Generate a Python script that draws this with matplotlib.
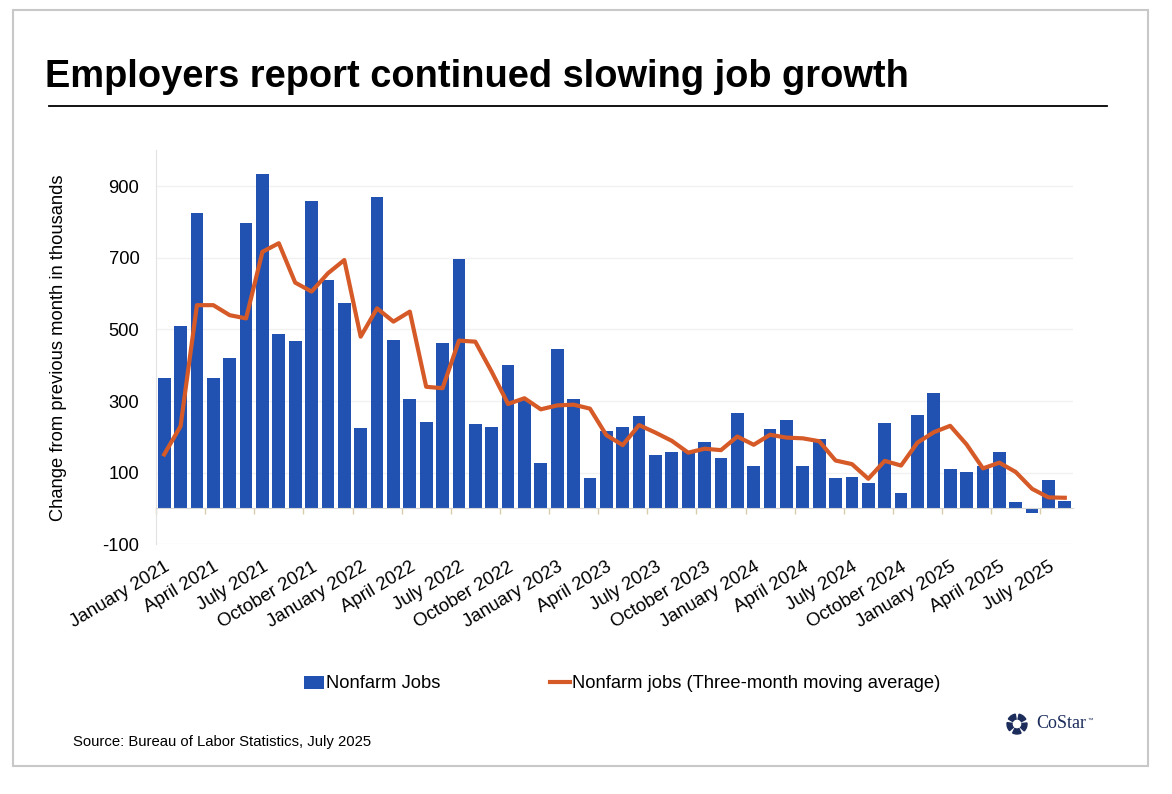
import matplotlib
matplotlib.use("Agg")
import matplotlib.pyplot as plt
import matplotlib.patches as mpatches
from matplotlib.lines import Line2D
import numpy as np

plt.rcParams['font.family'] = ['Liberation Sans', 'DejaVu Sans']
plt.rcParams['axes.unicode_minus'] = False

# monthly change in nonfarm payrolls (thousands), January 2021 .. August 2025
jobs = [365, 511, 826, 365, 421, 797, 933, 488, 467, 859, 638, 575,
        225, 871, 471, 306, 242, 462, 698, 237, 227, 400, 303, 126,
        445, 307, 85, 217, 227, 257, 149, 157, 160, 186, 140, 268,
        120, 222, 246, 118, 193, 86, 88, 71, 240, 44, 261, 323,
        110, 102, 120, 157, 18, -12, 79, 22]

# three-month moving average
moving_avg = [151, 230, 568, 568, 540, 531, 717, 741, 631, 606, 657, 694,
              480, 559, 522, 550, 340, 336, 469, 466, 382, 292, 308, 277,
              288, 290, 279, 205, 177, 233, 212, 189, 156, 167, 163, 201,
              178, 206, 198, 196, 188, 134, 124, 83, 133, 120, 184, 213,
              231, 179, 112, 128, 102, 55, 31, 30]

tick_labels = ["January 2021", "April 2021", "July 2021", "October 2021",
               "January 2022", "April 2022", "July 2022", "October 2022",
               "January 2023", "April 2023", "July 2023", "October 2023",
               "January 2024", "April 2024", "July 2024", "October 2024",
               "January 2025", "April 2025", "July 2025"]

BLUE = "#2152b1"
ORANGE = "#d65a27"
W, H = 1172, 794

fig = plt.figure(figsize=(W / 100, H / 100), dpi=100)
ax = fig.add_axes([156 / W, 1 - 544.3 / H, (1073 - 156) / W, (544.3 - 150.5) / H])

x = np.arange(len(jobs))
bars = ax.bar(x, jobs, width=0.78, color=BLUE, label="Nonfarm Jobs", zorder=2)
line, = ax.plot(x, moving_avg, color=ORANGE, lw=3,
                label="Nonfarm jobs (Three-month moving average)", zorder=3)

ax.set_xlim(-0.5, len(jobs) - 0.5)
ax.set_ylim(-100, 1000)
ax.set_yticks(np.arange(-100, 1000, 200))
ax.yaxis.grid(True, color="#f1f1f1", lw=1)
ax.set_axisbelow(True)
ax.tick_params(axis="y", length=0, labelsize=13.2, pad=12)

for s in ["top", "right"]:
    ax.spines[s].set_visible(False)
ax.spines["left"].set_color("#e2e2e2")
ax.spines["bottom"].set_position(("data", 0))
ax.spines["bottom"].set_color("#d6d6d6")

ax.set_xticks(np.arange(0, len(jobs), 3))
ax.set_xticklabels(tick_labels, rotation=31, ha="right", va="top", rotation_mode="anchor")
ax.set_xticks(np.arange(-0.5, len(jobs), 3), minor=True)
ax.tick_params(axis="x", which="major", length=0, labelsize=13.4, pad=36)
ax.tick_params(axis="x", which="minor", length=4, color="#d8cda8", width=1)

ax.set_ylabel("Change from previous month in thousands", fontsize=13.2)
ax.yaxis.set_label_coords(-0.097, 0.5)

fig.legend(handles=[bars, line], loc="center", bbox_to_anchor=(0.531, 1 - 684 / H), ncol=2,
           frameon=False, fontsize=13.2, handlelength=1.1, handletextpad=0.1, columnspacing=6.0)

fig.text(45 / W, 1 - 87 / H, "Employers report continued slowing job growth",
         fontsize=27.4, fontweight="bold", va="baseline")
fig.add_artist(Line2D([49 / W, 1107 / W], [1 - 106 / H] * 2, color="black", lw=1.3))
fig.add_artist(mpatches.Rectangle((13 / W, 1 - 766 / H), (1148 - 13) / W, (766 - 10) / H,
                                  fill=False, edgecolor="#c8c8c8", lw=1.5))
fig.text(73 / W, 1 - 742 / H, "Source: Bureau of Labor Statistics, July 2025", fontsize=10.7, va="center")

# CoStar logo
lax = fig.add_axes([1006 / W, 1 - 735 / H, 22 / W, 22 / H])
lax.set_xlim(-1.1, 1.1)
lax.set_ylim(-1.1, 1.1)
lax.set_aspect("equal")
lax.axis("off")
for k in range(5):
    a = 100 + k * 72
    lax.add_patch(mpatches.Wedge((0, 0), 1.0, a, a + 50, width=0.5, color="#1c2d5c"))
fig.text(1036 / W, 1 - 724 / H, "CoStar", family=["Liberation Serif", "DejaVu Serif"],
         fontsize=13, color="#1c2d5c", va="center")
fig.text(1088 / W, 1 - 720 / H, "\u2122", fontsize=4, color="#1c2d5c", va="center")

fig.savefig("out.png", dpi=100)
